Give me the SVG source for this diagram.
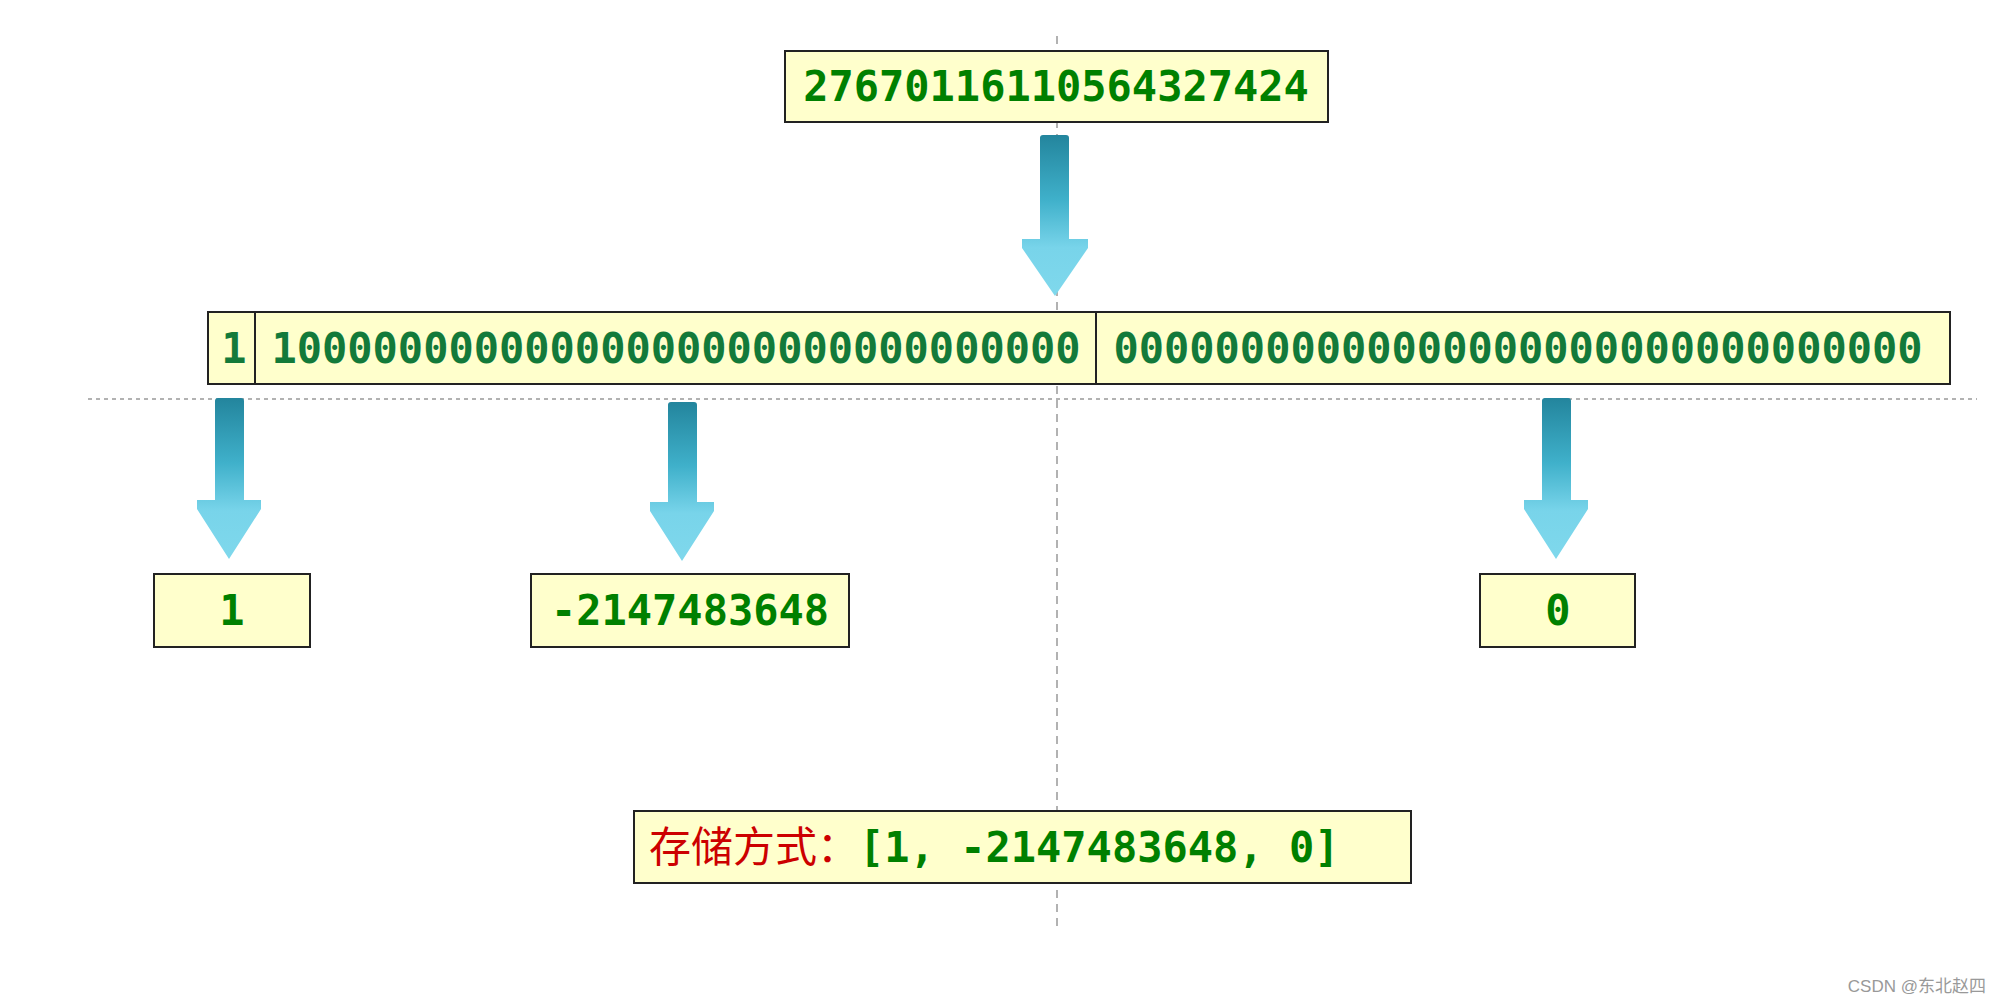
<svg xmlns="http://www.w3.org/2000/svg" width="2000" height="1005" viewBox="0 0 2000 1005">
<style>
.box{fill:#ffffcc;stroke:#222;stroke-width:2}
.m{font-family:"DejaVu Sans Mono",monospace;font-weight:bold;font-size:42px;fill:#008000}
.d{fill:#137a3a}
.zh{font-family:"Noto Sans CJK SC",sans-serif;font-size:42px;fill:#cc0000}
.arr{fill:url(#g)}
</style>
<defs>
<linearGradient id="g" x1="0" y1="0" x2="0" y2="1">
<stop offset="0" stop-color="#23859d"/>
<stop offset="0.4" stop-color="#3fb0ca"/>
<stop offset="0.7" stop-color="#78d4ea"/>
<stop offset="1" stop-color="#7fd8ec"/>
</linearGradient>
</defs>
<g id="guides" stroke="#999" stroke-width="1.5" fill="none">
<line x1="88" y1="399" x2="1977" y2="399" stroke-dasharray="4 4"/>
<line x1="1057" y1="36" x2="1057" y2="929" stroke-dasharray="8 6"/>
</g>
<g id="n-top"><rect class="box" x="785" y="51" width="543" height="71"/><text class="m" x="1056" y="101" text-anchor="middle">27670116110564327424</text></g>
<g id="n-bits">
<rect class="box" x="208" y="312" width="1742" height="72"/>
<line x1="255" y1="312" x2="255" y2="384" stroke="#222" stroke-width="2"/>
<line x1="1096" y1="312" x2="1096" y2="384" stroke="#222" stroke-width="2"/>
<text class="m d" x="234" y="363" text-anchor="middle">1</text>
<text class="m d" x="676" y="363" text-anchor="middle">10000000000000000000000000000000</text>
<text class="m d" x="1518" y="363" text-anchor="middle">00000000000000000000000000000000</text>
</g>
<g id="n-1"><rect class="box" x="154" y="574" width="156" height="73"/><text class="m" x="232" y="625" text-anchor="middle">1</text></g>
<g id="n-2"><rect class="box" x="531" y="574" width="318" height="73"/><text class="m" x="690" y="625" text-anchor="middle">-2147483648</text></g>
<g id="n-0"><rect class="box" x="1480" y="574" width="155" height="73"/><text class="m" x="1558" y="625" text-anchor="middle">0</text></g>
<g id="n-res"><rect class="box" x="634" y="811" width="777" height="72"/>
<text x="649" y="862"><tspan class="zh">存储方式：</tspan><tspan class="m">[1, -2147483648, 0]</tspan></text></g>
<g id="connectors">
<path class="arr" d="M1040 138 Q1040 135 1043 135 L1066 135 Q1069 135 1069 138 L1069 239 L1088 239 L1088 248 L1055 296 L1022 248 L1022 239 L1040 239 Z"/>
<path class="arr" d="M215 401 Q215 398 218 398 L241 398 Q244 398 244 401 L244 500 L261 500 L261 509 L229 559 L197 509 L197 500 L215 500 Z"/>
<path class="arr" d="M668 405 Q668 402 671 402 L694 402 Q697 402 697 405 L697 502 L714 502 L714 511 L682 561 L650 511 L650 502 L668 502 Z"/>
<path class="arr" d="M1542 401 Q1542 398 1545 398 L1568 398 Q1571 398 1571 401 L1571 500 L1588 500 L1588 509 L1556 559 L1524 509 L1524 500 L1542 500 Z"/>
</g>
<text x="1986" y="992" text-anchor="end" font-family="'Liberation Sans','Noto Sans CJK SC',sans-serif" font-size="17" fill="#999">CSDN @东北赵四</text>
</svg>
